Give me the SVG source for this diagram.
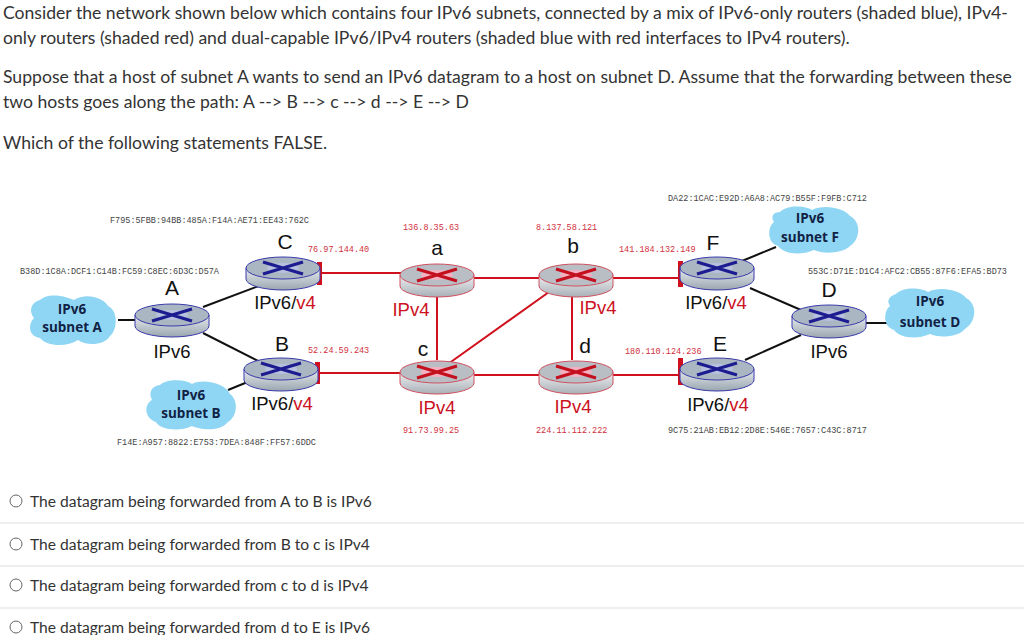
<svg xmlns="http://www.w3.org/2000/svg" width="1024" height="635" viewBox="0 0 1024 635">
<style>
.q{font-family:Lato,"Open Sans",sans-serif;font-size:17.6px;fill:#333}
.o{font-family:Lato,"Open Sans",sans-serif;font-size:15.6px;fill:#333}
.mono{font-family:"Liberation Mono",monospace;font-size:8.5px;fill:#444}
.mr{font-family:"Liberation Mono",monospace;font-size:8.5px;fill:#d03040}
.lbl{font-family:"Liberation Sans",Arial,sans-serif;font-size:21px;fill:#111;text-anchor:middle}
.typ{font-family:"Liberation Sans",Arial,sans-serif;font-size:18.5px;fill:#111;text-anchor:middle}
.red{fill:#cc1122}
.cl{font-family:"Open Sans","Liberation Sans",sans-serif;font-size:13.5px;font-weight:bold;fill:#112244;text-anchor:middle}
.blk{stroke:#111;stroke-width:2;fill:none}
.rl{stroke:#d0101c;stroke-width:2;fill:none}
.bar{fill:#d0101c}
.cloud{fill:#8fd6f4}
.sep{stroke:#ddd;stroke-width:1}
</style>
<defs>
<linearGradient id="gb" x1="0" y1="0" x2="0" y2="1"><stop offset="0" stop-color="#e8ecef"/><stop offset="1" stop-color="#9aa6b0"/></linearGradient>
<linearGradient id="gr" x1="0" y1="0" x2="0" y2="1"><stop offset="0" stop-color="#eef0f2"/><stop offset="1" stop-color="#a8b0b6"/></linearGradient>
<g id="rb">
<path d="M-37,-5 V6 A37,11 0 0 0 37,6 V-5" fill="url(#gb)" stroke="#3a3aaa" stroke-width="1"/>
<ellipse cx="0" cy="-5" rx="37" ry="11" fill="#aab6c2" stroke="#3a3aaa" stroke-width="1"/>
<ellipse cx="0" cy="-5" rx="16" ry="5" fill="#b8c0e0"/>
<path d="M-20,-11 L20,1 M20,-11 L-20,1" stroke="#1c1c90" stroke-width="3"/>
</g>
<g id="rr">
<path d="M-37,-5 V6 A37,11 0 0 0 37,6 V-5" fill="url(#gr)" stroke="#d05060" stroke-width="1"/>
<ellipse cx="0" cy="-5" rx="37" ry="11" fill="#b8bec4" stroke="#d05060" stroke-width="1"/>
<ellipse cx="0" cy="-5" rx="16" ry="5" fill="#f4b0c0"/>
<path d="M-20,-11 L20,1 M20,-11 L-20,1" stroke="#c4101e" stroke-width="3"/>
</g>
</defs>

<text class="q" x="3" y="19">Consider the network shown below which contains four IPv6 subnets, connected by a mix of IPv6-only routers (shaded blue), IPv4-</text>
<text class="q" x="3" y="44">only routers (shaded red) and dual-capable IPv6/IPv4 routers (shaded blue with red interfaces to IPv4 routers).</text>
<text class="q" x="3" y="83">Suppose that a host of subnet A wants to send an IPv6 datagram to a host on subnet D. Assume that the forwarding between these</text>
<text class="q" x="3" y="108">two hosts goes along the path: A --&gt; B --&gt; c --&gt; d --&gt; E --&gt; D</text>
<text class="q" x="3" y="149">Which of the following statements FALSE.</text>

<g id="connectors">
<line class="blk" x1="118" y1="320" x2="136" y2="320"/>
<line class="blk" x1="203" y1="307" x2="264" y2="284"/>
<line class="blk" x1="203" y1="333" x2="262" y2="363"/>
<line class="blk" x1="228" y1="390" x2="250" y2="381"/>
<line class="rl" x1="320" y1="273" x2="401" y2="273"/>
<line class="rl" x1="318" y1="373" x2="401" y2="373"/>
<line class="rl" x1="474" y1="278" x2="540" y2="278"/>
<line class="rl" x1="437" y1="296" x2="437" y2="360"/>
<line class="rl" x1="448" y1="364" x2="549" y2="292"/>
<line class="rl" x1="474" y1="375" x2="540" y2="375"/>
<line class="rl" x1="572" y1="296" x2="572" y2="360"/>
<line class="rl" x1="613" y1="278" x2="681" y2="278"/>
<line class="rl" x1="613" y1="375" x2="681" y2="375"/>
<rect class="bar" x="317" y="262" width="5" height="23"/>
<rect class="bar" x="315" y="362" width="5" height="22"/>
<rect class="bar" x="678" y="261" width="5" height="26"/>
<rect class="bar" x="678" y="358" width="5" height="27"/>
<line class="blk" x1="742" y1="261" x2="776" y2="247"/>
<line class="blk" x1="750" y1="288" x2="801" y2="310"/>
<line class="blk" x1="745" y1="360" x2="801" y2="335"/>
<line class="blk" x1="866" y1="323" x2="888" y2="323"/>
</g>

<g id="cloudA"><path class="cloud" d="M40,300 C48,292 66,296 74,300 C86,292 104,298 108,306 C118,310 118,330 110,336 C104,346 86,346 78,340 C66,348 46,346 40,338 C28,336 28,324 34,318 C28,310 32,302 40,300Z"/>
<text class="cl" x="72" y="314">IPv6</text><text class="cl" x="72" y="332">subnet A</text></g>
<g id="cloudB"><path class="cloud" d="M160,385 C168,378 186,380 192,384 C204,378 226,384 230,394 C240,402 236,418 228,422 C220,432 200,430 192,426 C180,432 160,430 156,422 C144,418 144,404 152,400 C148,392 152,386 160,385Z"/>
<text class="cl" x="191" y="400">IPv6</text><text class="cl" x="191" y="418">subnet B</text></g>
<g id="cloudF"><path class="cloud" d="M780,212 C788,204 806,206 812,210 C824,204 844,208 850,216 C862,222 860,240 850,246 C842,254 822,254 814,250 C800,256 784,254 778,246 C766,242 768,226 774,222 C770,216 774,212 780,212Z"/>
<text class="cl" x="810" y="223">IPv6</text><text class="cl" x="810" y="242">subnet F</text></g>
<g id="cloudD"><path class="cloud" d="M896,294 C904,286 922,288 928,292 C940,286 960,290 966,298 C978,304 976,322 966,328 C958,338 938,338 930,334 C916,340 900,338 894,330 C882,326 884,310 890,306 C886,300 890,296 896,294Z"/>
<text class="cl" x="930" y="306">IPv6</text><text class="cl" x="930" y="327">subnet D</text></g>

<g id="A"><use href="#rb" x="172" y="320"/><text class="lbl" x="172" y="295">A</text><text class="typ" x="172" y="358">IPv6</text>
<text class="mono" x="20" y="274">B38D:1C8A:DCF1:C14B:FC59:C8EC:6D3C:D57A</text></g>
<g id="C"><use href="#rb" x="283" y="273"/><text class="lbl" x="285" y="249">C</text><text class="typ" x="285" y="309">IPv6/<tspan class="red">v4</tspan></text>
<text class="mono" x="110" y="223">F795:5FBB:94BB:485A:F14A:AE71:EE43:762C</text><text class="mr" x="308" y="252">76.97.144.40</text></g>
<g id="B"><use href="#rb" x="281" y="374"/><text class="lbl" x="282" y="351">B</text><text class="typ" x="282" y="410">IPv6/<tspan class="red">v4</tspan></text>
<text class="mr" x="308" y="353">52.24.59.243</text><text class="mono" x="117" y="445">F14E:A957:8822:E753:7DEA:848F:FF57:6DDC</text></g>
<g id="a"><use href="#rr" x="437" y="280"/><text class="lbl" x="437" y="255">a</text><text class="typ red" x="411" y="316">IPv4</text>
<text class="mr" x="403" y="230">136.8.35.63</text></g>
<g id="c"><use href="#rr" x="437" y="377"/><text class="lbl" x="423" y="356">c</text><text class="typ red" x="437" y="414">IPv4</text>
<text class="mr" x="403" y="433">91.73.99.25</text></g>
<g id="b"><use href="#rr" x="576" y="280"/><text class="lbl" x="573" y="253">b</text><text class="typ red" x="598" y="314">IPv4</text>
<text class="mr" x="536" y="230">8.137.58.121</text></g>
<g id="d"><use href="#rr" x="576" y="377"/><text class="lbl" x="585" y="353">d</text><text class="typ red" x="573" y="413">IPv4</text>
<text class="mr" x="536" y="433">224.11.112.222</text></g>
<g id="F"><use href="#rb" x="717" y="273"/><text class="lbl" x="713" y="250">F</text><text class="typ" x="716" y="309">IPv6/<tspan class="red">v4</tspan></text>
<text class="mono" x="668" y="201">DA22:1CAC:E92D:A6A8:AC79:B55F:F9FB:C712</text><text class="mr" x="619" y="252">141.184.132.149</text></g>
<g id="E"><use href="#rb" x="717" y="374"/><text class="lbl" x="720" y="351">E</text><text class="typ" x="718" y="411">IPv6/<tspan class="red">v4</tspan></text>
<text class="mr" x="625" y="354">180.110.124.236</text><text class="mono" x="668" y="433">9C75:21AB:EB12:2D8E:546E:7657:C43C:8717</text></g>
<g id="D"><use href="#rb" x="829" y="321"/><text class="lbl" x="829" y="297">D</text><text class="typ" x="829" y="358">IPv6</text>
<text class="mono" x="808" y="274">553C:D71E:D1C4:AFC2:CB55:87F6:EFA5:BD73</text></g>

<g id="options">
<circle cx="16" cy="501" r="6" fill="#fff" stroke="#666"/><text class="o" x="30" y="507">The datagram being forwarded from A to B is IPv6</text>
<line class="sep" x1="0" y1="523" x2="1024" y2="523"/>
<circle cx="16" cy="544" r="6" fill="#fff" stroke="#666"/><text class="o" x="30" y="550">The datagram being forwarded from B to c is IPv4</text>
<line class="sep" x1="0" y1="566" x2="1024" y2="566"/>
<circle cx="16" cy="585" r="6" fill="#fff" stroke="#666"/><text class="o" x="30" y="591">The datagram being forwarded from c to d is IPv4</text>
<line class="sep" x1="0" y1="608" x2="1024" y2="608"/>
<circle cx="16" cy="627" r="6" fill="#fff" stroke="#666"/><text class="o" x="30" y="633">The datagram being forwarded from d to E is IPv6</text>
</g>
</svg>
